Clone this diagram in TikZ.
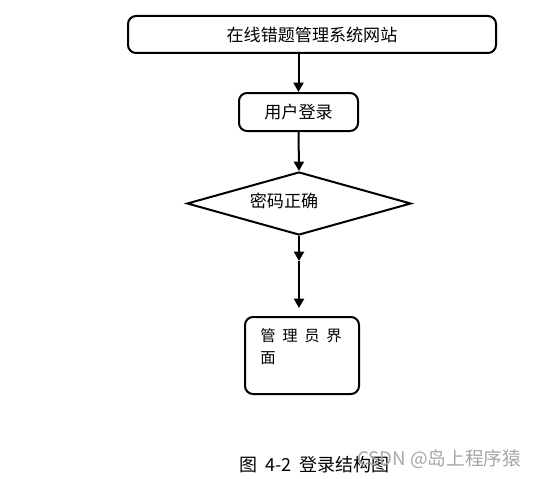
\documentclass[tikz,border=0pt]{standalone}
\usepackage{fontspec}
\newfontfamily\cjk{Noto Sans CJK SC}
\usetikzlibrary{shapes.geometric,arrows.meta}
\begin{document}
\begin{tikzpicture}[x=0.75pt,y=-0.75pt,
  box/.style={draw,line width=1.5pt,rounded corners=6pt,inner sep=0pt},
  arr/.style={line width=1.5pt,-{Triangle[length=7pt,width=7.5pt]}},
  lbl/.style={font=\cjk\fontsize{12.8pt}{15pt}\selectfont,inner sep=0pt}]
\useasboundingbox (0,0) rectangle (541,478);
\node[box,minimum width=276pt,minimum height=27.75pt] (b1) at (312,34.5) {};
\node[lbl] (t1) at (312,34.5) {在线错题管理系统网站};
\node[box,minimum width=89.25pt,minimum height=28.5pt] (b2) at (298.5,112) {};
\node[lbl] (t2) at (298.5,112) {用户登录};
\node[draw,line width=1.5pt,diamond,inner sep=0pt,minimum width=168pt,minimum height=47.25pt,aspect=3.56] (d) at (299,203.5) {};
\node[lbl] (t3) at (284,201) {密码正确};
\node[box,minimum width=85.5pt,minimum height=57.75pt] (b4) at (302,355.5) {};
\node[lbl,anchor=north west,align=left,font=\cjk\fontsize{11.5pt}{17pt}\selectfont] (t4) at (260,328) {管\hskip5pt 理\hskip5pt 员\hskip5pt 界\\面};
\coordinate (m) at (299,261);
\draw[arr] (b1.south -| b2.north) -- (b2.north);
\draw[arr] (b2.south) -- (d.north);
\draw[arr] (d.south) -- (m);
\draw[arr,shorten >=6pt] (m) -- (m |- b4.north);
\node[lbl,anchor=west,font=\cjk\fontsize{13.5pt}{16pt}\selectfont] (cap) at (239,465) {图\hskip6pt 4-2\hskip6pt 登录结构图};
\node[lbl,anchor=west,text=black!35,font=\cjk\fontsize{14pt}{16pt}\selectfont] (wm) at (357,459) {CSDN @岛上程序猿};
\end{tikzpicture}
\end{document}
